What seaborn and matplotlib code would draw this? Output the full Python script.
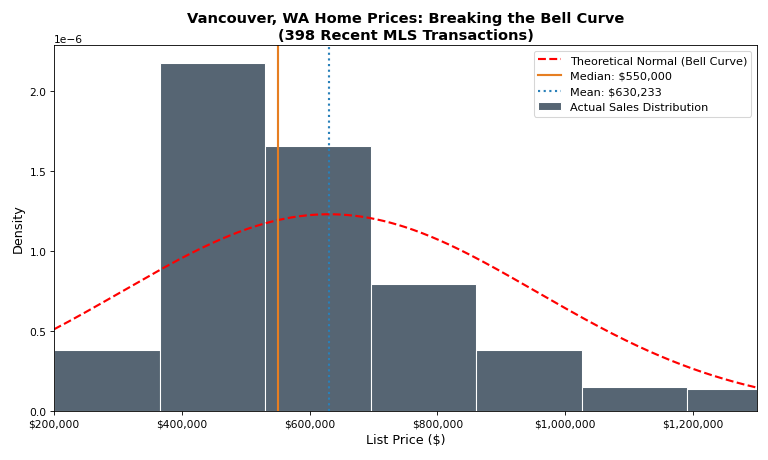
import numpy as np
import pandas as pd
import matplotlib
matplotlib.use("Agg")
import matplotlib.pyplot as plt
import matplotlib.ticker as mticker
import seaborn as sns

# --- Data ---
n_sales = 398
bin_edges = [200500, 365600, 530700, 695800, 860900, 1026000, 1191100, 1356200]
bin_counts = [25, 143, 109, 52, 25, 10, 9]   # sales per bin (visible range)
median_price = 550000
mean_price = 630233
std_price = 324500

# bar centres weighted so the histogram shows density over all 398 sales
centers = [(a + b) / 2 for a, b in zip(bin_edges[:-1], bin_edges[1:])]
widths = [b - a for a, b in zip(bin_edges[:-1], bin_edges[1:])]
density = [c / (n_sales * w) for c, w in zip(bin_counts, widths)]
df = pd.DataFrame({"price": centers, "density": density})

# --- Plot ---
fig, ax = plt.subplots(figsize=(10, 6), dpi=76.8)

sns.histplot(
    data=df,
    x="price",
    weights="density",
    bins=bin_edges,
    stat="count",
    color="#2c3e50",
    alpha=0.8,
    edgecolor="white",
    linewidth=1,
    label="Actual Sales Distribution",
    ax=ax,
)

# theoretical normal with the same mean / std
xs = np.linspace(200000, 1300000, 400)
pdf = np.exp(-0.5 * ((xs - mean_price) / std_price) ** 2) / (std_price * np.sqrt(2 * np.pi))
sns.lineplot(x=xs, y=pdf, color="red", linestyle="--", linewidth=2,
             label="Theoretical Normal (Bell Curve)", ax=ax)

ax.axvline(median_price, color="#e67e22", linewidth=2, label=f"Median: ${median_price:,.0f}")
ax.axvline(mean_price, color="#2980b9", linestyle=":", linewidth=2, label=f"Mean: ${mean_price:,.0f}")

ax.set_xlim(200000, 1300000)
ax.xaxis.set_major_formatter(mticker.StrMethodFormatter("${x:,.0f}"))
ax.set_title("Vancouver, WA Home Prices: Breaking the Bell Curve\n(398 Recent MLS Transactions)",
             fontsize=13.7, fontweight="bold")
ax.set_xlabel("List Price ($)", fontsize=12)
ax.set_ylabel("Density", fontsize=12)
ax.legend(loc="upper right", fontsize=10.5)

plt.subplots_adjust(left=0.0703, right=0.9857, top=0.900, bottom=0.1063)
plt.savefig("out.png", dpi=76.8)
plt.close()
